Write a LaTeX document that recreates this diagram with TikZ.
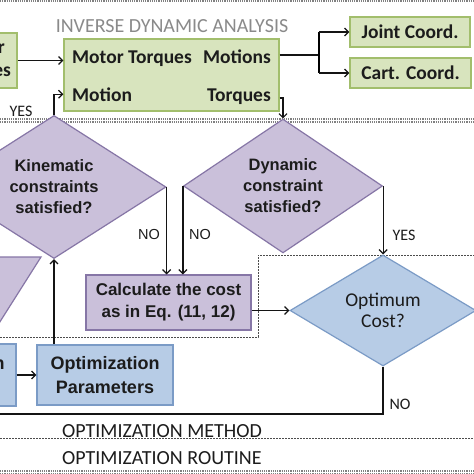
\documentclass[tikz,border=0pt]{standalone}
\usepackage{fontspec}
\setmainfont{Carlito}
\newfontfamily\arialf{Liberation Sans}
\usetikzlibrary{shapes.geometric,arrows.meta,shadows,calc}
\definecolor{gfill}{HTML}{D8E4BE}
\definecolor{gdraw}{HTML}{A2BE6C}
\definecolor{pfill}{HTML}{CAC0DA}
\definecolor{pdraw}{HTML}{8676A6}
\definecolor{bfill}{HTML}{B7CCE6}
\definecolor{bdraw}{HTML}{7B9BC6}
\definecolor{graytxt}{HTML}{8A8A8A}
\definecolor{txt}{HTML}{1C1C1C}
\begin{document}
\begin{tikzpicture}[x=1pt,y=-1pt,
  shad/.style={drop shadow={shadow xshift=1.2pt,shadow yshift=-1.4pt,opacity=0.3,fill=black!60}},
  gbox/.style={rectangle,draw=gdraw,fill=gfill,line width=1.3pt,inner sep=0pt,shad,text=txt,
    font=\fontsize{19.5}{23}\selectfont\bfseries,align=center},
  pbox/.style={rectangle,draw=pdraw,fill=pfill,line width=1.2pt,inner sep=0pt,shad,text=txt,
    font=\arialf\fontsize{17}{22}\selectfont\bfseries,align=center},
  bbox/.style={rectangle,draw=bdraw,fill=bfill,line width=1.2pt,inner sep=0pt,shad,text=txt,
    font=\arialf\fontsize{18}{24}\selectfont\bfseries,align=center},
  pdia/.style={diamond,draw=pdraw,fill=pfill,line width=1.2pt,inner sep=0pt,text=txt,
    font=\arialf\fontsize{16.5}{21}\selectfont\bfseries,align=center},
  bdia/.style={diamond,draw=bdraw,fill=bfill,line width=1.2pt,inner sep=0pt,text=txt,
    font=\fontsize{19.5}{20.5}\selectfont,align=center},
  lbl/.style={inner sep=0pt,text=txt,font=\fontsize{19.5}{22}\selectfont\bfseries},
  cal/.style={inner sep=0pt,text=txt,font=\fontsize{16}{18}\selectfont},
  ari/.style={inner sep=0pt,text=txt,font=\arialf\fontsize{14.5}{18}\selectfont},
  sect/.style={inner sep=0pt,text=txt,font=\fontsize{20}{22}\selectfont},
  conn/.style={line width=1.2pt,draw=black!92},
  arr/.style={conn,-{Straight Barb[length=4pt,width=8pt,line width=1.2pt]}},
  dd/.style={line width=1.1pt,draw=black!50,dash pattern=on 1.1pt off 1.1pt},
  sd/.style={line width=0.8pt,draw=black!70,dash pattern=on 1.6pt off 1.4pt}]
\useasboundingbox (0,0) rectangle (474,474);
\clip (0,0) rectangle (474,474);
\fill[white] (0,0) rectangle (474,474);

% dotted section lines
\draw[dd] (0,1) -- (474,1);
\draw[dd] (0,119) -- (474,119);
\draw[dd] (0,122) -- (474,122);
\draw[sd] (0,438) -- (474,438);
\draw[dd] (0,471) -- (474,471);
\draw[dd] (0,473.6) -- (474,473.6);
\draw[sd] (0,337) -- (258,337) -- (258,255) -- (474,255);

% title
\node[inner sep=0pt,anchor=base,text=graytxt,font=\fontsize{20}{22}\selectfont] (title) at (172,32.5) {INVERSE DYNAMIC ANALYSIS};

% inverse dynamic block
\node[gbox,minimum width=76pt,minimum height=55pt] (mt) at (-21,60.5) {Motor\\Torques};
\node[gbox,minimum width=215pt,minimum height=72pt] (ida) at (171.5,75) {};
\node[lbl,anchor=base west] (lmt) at (72,63) {Motor Torques};
\node[lbl,anchor=base east] (lmo) at (271,63) {Motions};
\node[lbl,anchor=base west] (lmn) at (72,101) {Motion};
\node[lbl,anchor=base east] (ltq) at (271,101) {Torques};
\node[gbox,minimum width=120pt,minimum height=30pt] (joint) at (410,32) {Joint Coord.};
\node[gbox,minimum width=121pt,minimum height=30pt] (cart) at (410.5,73) {Cart. Coord.};

% parallelogram fragment
\filldraw[fill=pfill,draw=pdraw,line width=1.2pt] (-100,257) -- (41,257) -- (-4,328) -- (-100,328) -- cycle;

% decisions
\node[pdia,minimum width=224pt,minimum height=128pt] (kin) at (54,187) {Kinematic\\constraints\\satisfied?};
\node[pdia,minimum width=199pt,minimum height=130pt] (dyn) at (283,186) {Dynamic\\constraint\\satisfied?};
\node[pbox,minimum width=165pt,minimum height=55pt] (calc) at (168.5,302.5) {Calculate the cost\\as in Eq. (11, 12)};
\node[bdia,minimum width=186pt,minimum height=111pt] (opt) at (383,310.5) {Optimum\\Cost?};
\node[bbox,minimum width=136pt,minimum height=60pt] (params) at (105,375) {Optimization\\Parameters};
\node[bbox,minimum width=132pt,minimum height=62pt] (lb) at (-50,375) {Optimization\\Method};

% section labels
\node[sect,anchor=base west] (om) at (62,437) {OPTIMIZATION METHOD};
\node[sect,anchor=base west] (orr) at (62,464) {OPTIMIZATION ROUTINE};

% connectors
\draw[arr] (mt.east) -- (ida.west |- mt.east);
\draw[arr] (kin.north) |- (ida.west |- lmn);
\coordinate (br) at (319,55);
\draw[conn] (ida.east |- br) -- (br);
\draw[line width=2.2pt] (br |- joint.west) -- (br |- cart.west);
\draw[arr] (br |- joint.west) -- (joint.west);
\draw[arr] (br |- cart.west) -- (cart.west);
\draw[arr] (ida.east |- 0,98) -- (dyn.north |- 0,98) -- (dyn.north);
\draw[arr] (kin.east) -- (kin.east |- calc.north);
\draw[arr] (dyn.west) -- (dyn.west |- calc.north);
\draw[arr] (dyn.east) -- (dyn.east |- opt.north);
\draw[arr] (calc.east |- opt.west) -- (opt.west);
\draw[arr] (lb.east) -- (params.west);
\draw[arr] (params.north -| kin.south) -- (kin.south);
\coordinate (noend) at (-5,414);
\draw[conn] (opt.south) -- (opt.south |- noend) -- (noend);

% connector labels
\node[cal] (yes1) at (21,111) {YES};
\node[ari] (no1) at (149,235) {NO};
\node[ari] (no2) at (200,235) {NO};
\node[cal] (yes2) at (404,235) {YES};
\node[cal] (no3) at (400,404) {NO};
\end{tikzpicture}
\end{document}
